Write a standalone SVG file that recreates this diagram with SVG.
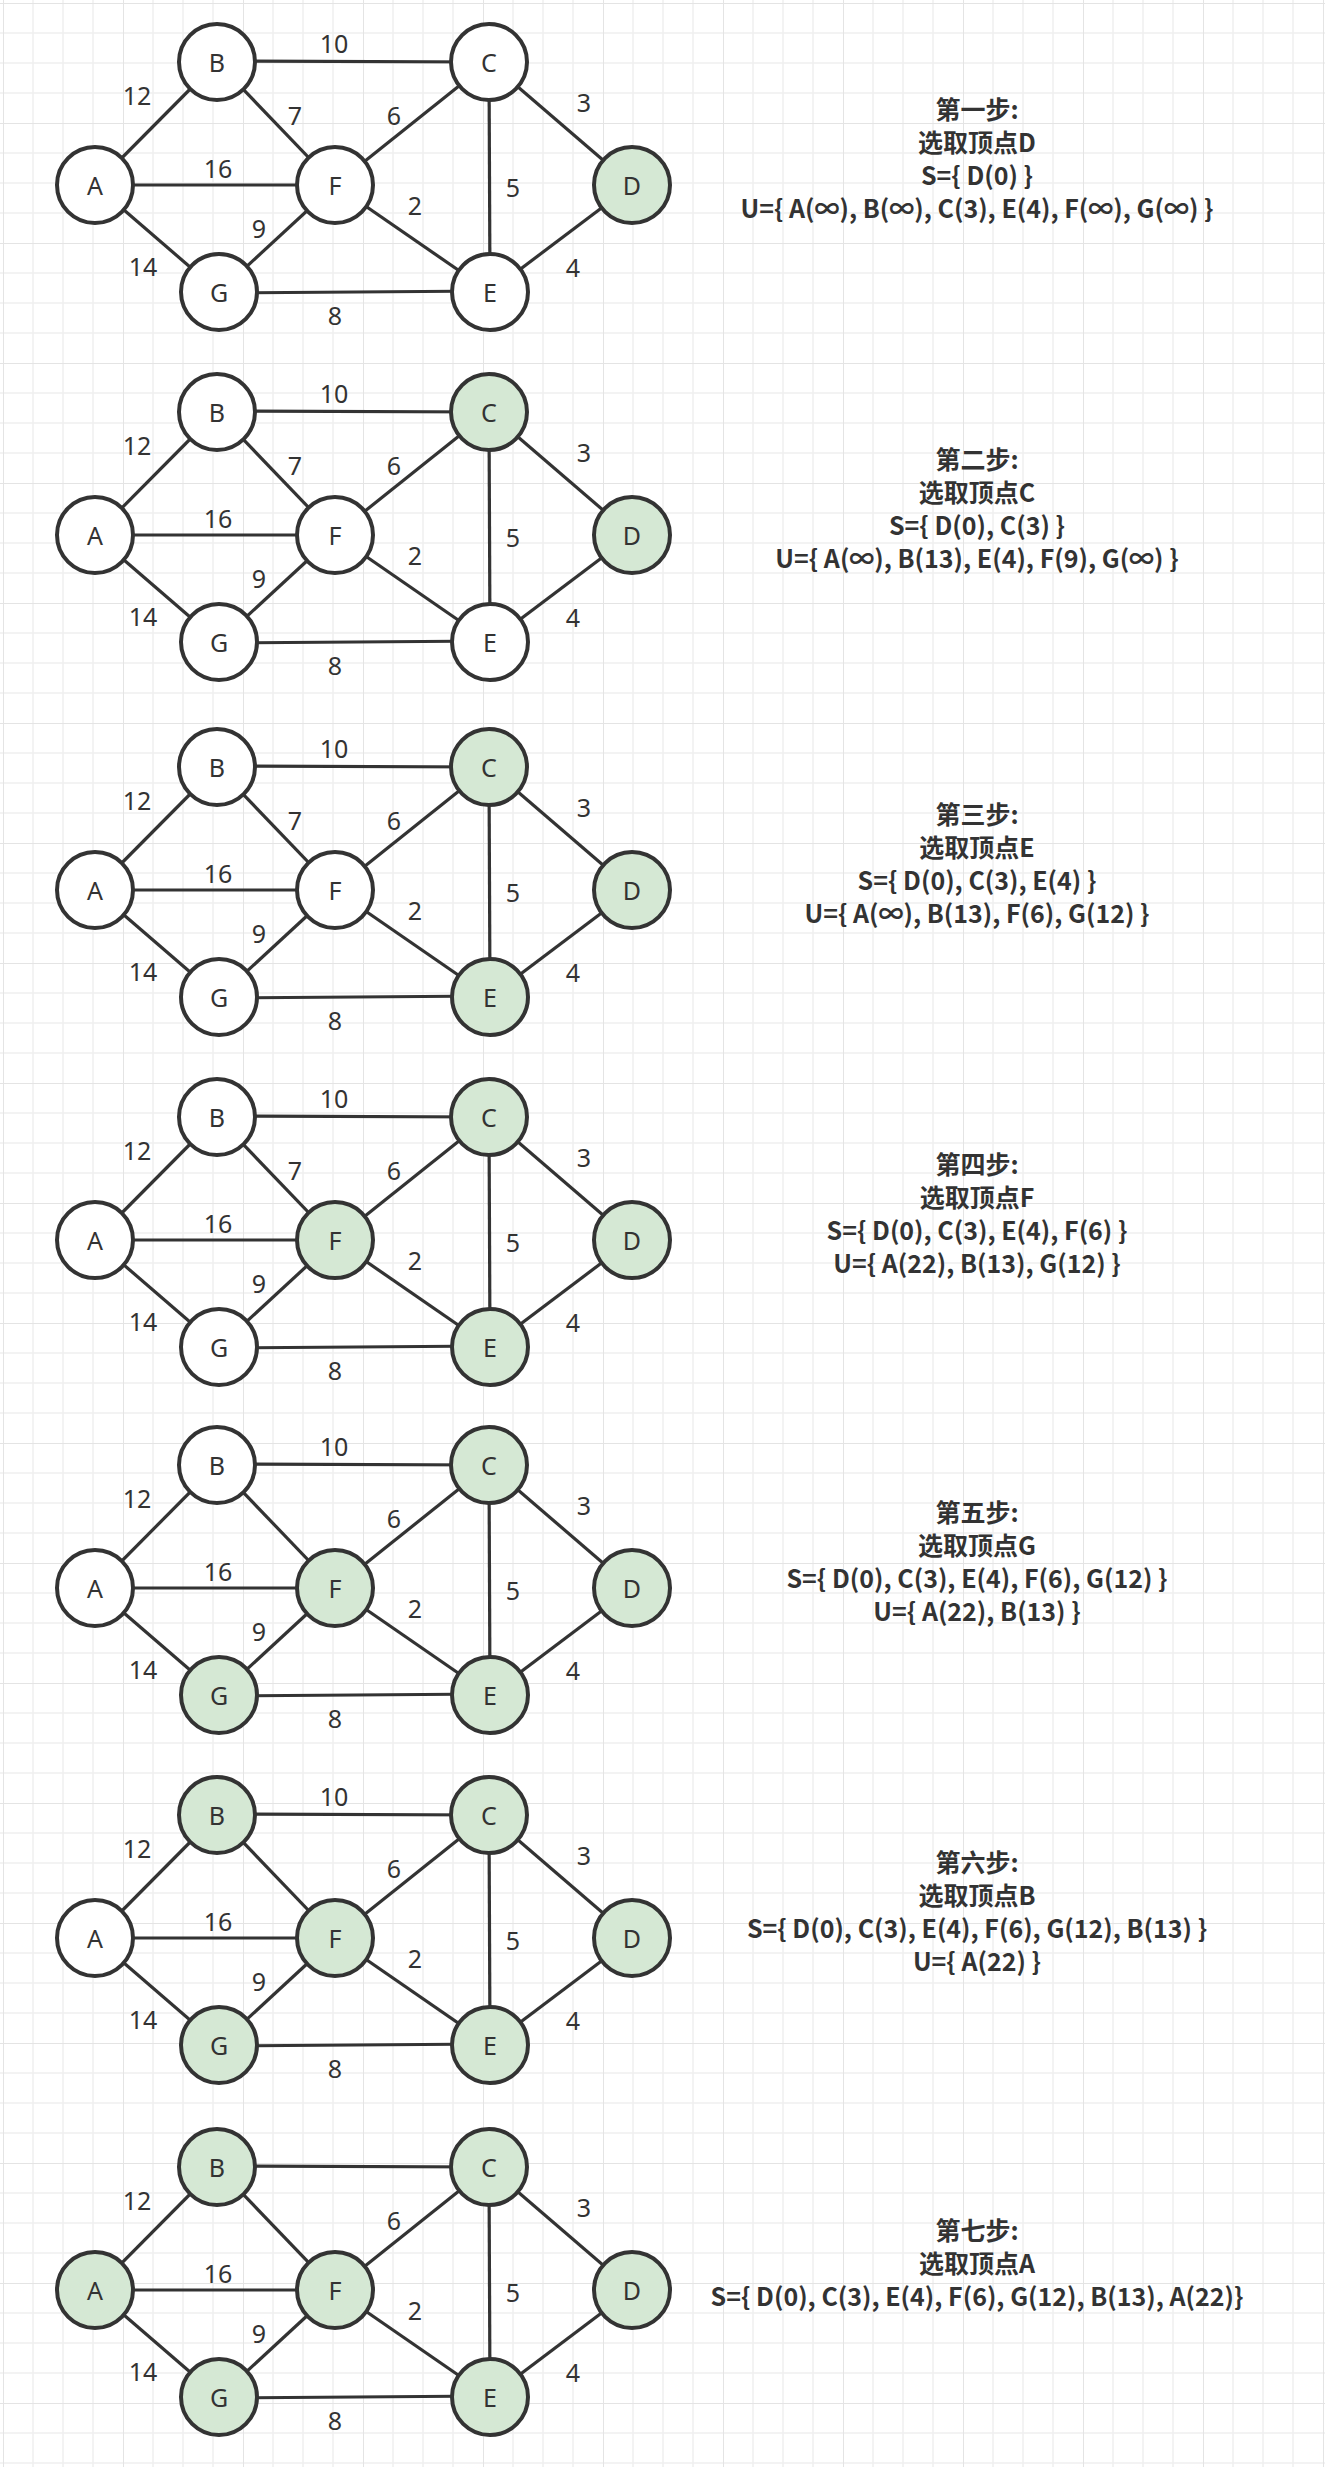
<svg xmlns="http://www.w3.org/2000/svg" xmlns:xlink="http://www.w3.org/1999/xlink" width="1325" height="2467" viewBox="0 0 1325 2467">
<style>
.e{stroke:#333;stroke-width:3.2;fill:none}
.n{stroke:#333;stroke-width:4;fill:#fff}
.g{stroke:#333;stroke-width:4;fill:#d5e8d4}
.nl{font-family:"Noto Sans","Liberation Sans",sans-serif;font-size:25px;fill:#333;text-anchor:middle;dominant-baseline:central}
.el{font-family:"Noto Sans","Liberation Sans",sans-serif;font-size:25px;fill:#333;text-anchor:middle;dominant-baseline:central}
.t{font-family:"Noto Sans CJK SC","Noto Sans",sans-serif;font-size:25px;font-weight:bold;fill:#333;text-anchor:middle;dominant-baseline:central}
</style>
<defs>
<pattern id="grid" x="3" y="3" width="120" height="120" patternUnits="userSpaceOnUse">
<path d="M30 0V120M60 0V120M90 0V120M0 30H120M0 60H120M0 90H120" stroke="#f0f0f0" stroke-width="1.5" fill="none"/>
<path d="M0 0V120M0 0H120" stroke="#e4e4e4" stroke-width="2" fill="none"/>
</pattern>
<g id="edges">
<line class="e" x1="95" y1="185" x2="217" y2="62"/>
<line class="e" x1="95" y1="185" x2="335" y2="185"/>
<line class="e" x1="95" y1="185" x2="219" y2="292"/>
<line class="e" x1="217" y1="61" x2="489" y2="62"/>
<line class="e" x1="217" y1="62" x2="335" y2="185"/>
<line class="e" x1="489" y1="62" x2="335" y2="185"/>
<line class="e" x1="489" y1="62" x2="490" y2="292"/>
<line class="e" x1="489" y1="62" x2="632" y2="185"/>
<line class="e" x1="335" y1="185" x2="490" y2="292"/>
<line class="e" x1="335" y1="185" x2="219" y2="292"/>
<line class="e" x1="219" y1="293" x2="490" y2="291"/>
<line class="e" x1="490" y1="292" x2="632" y2="185"/>
</g>
</defs>
<rect width="1325" height="2467" fill="#fff"/>
<rect width="1325" height="2467" fill="url(#grid)"/>

<!-- Panel 1 -->
<g id="step1">
<g id="connectors1"><use xlink:href="#edges"/>
<text class="el" x="334" y="43">10</text><text class="el" x="137" y="95">12</text><text class="el" x="295" y="115">7</text><text class="el" x="394" y="115">6</text><text class="el" x="218" y="168">16</text><text class="el" x="584" y="102">3</text><text class="el" x="513" y="187">5</text><text class="el" x="415" y="205">2</text><text class="el" x="259" y="228">9</text><text class="el" x="143" y="266">14</text><text class="el" x="573" y="267">4</text><text class="el" x="335" y="315">8</text></g>
<g id="s1A"><circle class="n" cx="95" cy="185" r="38"/><text class="nl" x="95" y="185">A</text></g>
<g id="s1B"><circle class="n" cx="217" cy="62" r="38"/><text class="nl" x="217" y="62">B</text></g>
<g id="s1C"><circle class="n" cx="489" cy="62" r="38"/><text class="nl" x="489" y="62">C</text></g>
<g id="s1D"><circle class="g" cx="632" cy="185" r="38"/><text class="nl" x="632" y="185">D</text></g>
<g id="s1F"><circle class="n" cx="335" cy="185" r="38"/><text class="nl" x="335" y="185">F</text></g>
<g id="s1G"><circle class="n" cx="219" cy="292" r="38"/><text class="nl" x="219" y="292">G</text></g>
<g id="s1E"><circle class="n" cx="490" cy="292" r="38"/><text class="nl" x="490" y="292">E</text></g>
<g id="s1text"><text class="t" x="977" y="108">第一步:</text><text class="t" x="977" y="141">选取顶点D</text><text class="t" x="977" y="174">S={ D(0) }</text><text class="t" x="977" y="207">U={ A(∞), B(∞), C(3), E(4), F(∞), G(∞) }</text></g>
</g>

<!-- Panel 2 -->
<g id="step2" transform="translate(0,350)">
<g id="connectors2"><use xlink:href="#edges"/>
<text class="el" x="334" y="43">10</text><text class="el" x="137" y="95">12</text><text class="el" x="295" y="115">7</text><text class="el" x="394" y="115">6</text><text class="el" x="218" y="168">16</text><text class="el" x="584" y="102">3</text><text class="el" x="513" y="187">5</text><text class="el" x="415" y="205">2</text><text class="el" x="259" y="228">9</text><text class="el" x="143" y="266">14</text><text class="el" x="573" y="267">4</text><text class="el" x="335" y="315">8</text></g>
<g id="s2A"><circle class="n" cx="95" cy="185" r="38"/><text class="nl" x="95" y="185">A</text></g>
<g id="s2B"><circle class="n" cx="217" cy="62" r="38"/><text class="nl" x="217" y="62">B</text></g>
<g id="s2C"><circle class="g" cx="489" cy="62" r="38"/><text class="nl" x="489" y="62">C</text></g>
<g id="s2D"><circle class="g" cx="632" cy="185" r="38"/><text class="nl" x="632" y="185">D</text></g>
<g id="s2F"><circle class="n" cx="335" cy="185" r="38"/><text class="nl" x="335" y="185">F</text></g>
<g id="s2G"><circle class="n" cx="219" cy="292" r="38"/><text class="nl" x="219" y="292">G</text></g>
<g id="s2E"><circle class="n" cx="490" cy="292" r="38"/><text class="nl" x="490" y="292">E</text></g>
<g id="s2text"><text class="t" x="977" y="108">第二步:</text><text class="t" x="977" y="141">选取顶点C</text><text class="t" x="977" y="174">S={ D(0), C(3) }</text><text class="t" x="977" y="207">U={ A(∞), B(13), E(4), F(9), G(∞) }</text></g>
</g>

<!-- Panel 3 -->
<g id="step3" transform="translate(0,705)">
<g id="connectors3"><use xlink:href="#edges"/>
<text class="el" x="334" y="43">10</text><text class="el" x="137" y="95">12</text><text class="el" x="295" y="115">7</text><text class="el" x="394" y="115">6</text><text class="el" x="218" y="168">16</text><text class="el" x="584" y="102">3</text><text class="el" x="513" y="187">5</text><text class="el" x="415" y="205">2</text><text class="el" x="259" y="228">9</text><text class="el" x="143" y="266">14</text><text class="el" x="573" y="267">4</text><text class="el" x="335" y="315">8</text></g>
<g id="s3A"><circle class="n" cx="95" cy="185" r="38"/><text class="nl" x="95" y="185">A</text></g>
<g id="s3B"><circle class="n" cx="217" cy="62" r="38"/><text class="nl" x="217" y="62">B</text></g>
<g id="s3C"><circle class="g" cx="489" cy="62" r="38"/><text class="nl" x="489" y="62">C</text></g>
<g id="s3D"><circle class="g" cx="632" cy="185" r="38"/><text class="nl" x="632" y="185">D</text></g>
<g id="s3F"><circle class="n" cx="335" cy="185" r="38"/><text class="nl" x="335" y="185">F</text></g>
<g id="s3G"><circle class="n" cx="219" cy="292" r="38"/><text class="nl" x="219" y="292">G</text></g>
<g id="s3E"><circle class="g" cx="490" cy="292" r="38"/><text class="nl" x="490" y="292">E</text></g>
<g id="s3text"><text class="t" x="977" y="108">第三步:</text><text class="t" x="977" y="141">选取顶点E</text><text class="t" x="977" y="174">S={ D(0), C(3), E(4) }</text><text class="t" x="977" y="207">U={ A(∞), B(13), F(6), G(12) }</text></g>
</g>

<!-- Panel 4 -->
<g id="step4" transform="translate(0,1055)">
<g id="connectors4"><use xlink:href="#edges"/>
<text class="el" x="334" y="43">10</text><text class="el" x="137" y="95">12</text><text class="el" x="295" y="115">7</text><text class="el" x="394" y="115">6</text><text class="el" x="218" y="168">16</text><text class="el" x="584" y="102">3</text><text class="el" x="513" y="187">5</text><text class="el" x="415" y="205">2</text><text class="el" x="259" y="228">9</text><text class="el" x="143" y="266">14</text><text class="el" x="573" y="267">4</text><text class="el" x="335" y="315">8</text></g>
<g id="s4A"><circle class="n" cx="95" cy="185" r="38"/><text class="nl" x="95" y="185">A</text></g>
<g id="s4B"><circle class="n" cx="217" cy="62" r="38"/><text class="nl" x="217" y="62">B</text></g>
<g id="s4C"><circle class="g" cx="489" cy="62" r="38"/><text class="nl" x="489" y="62">C</text></g>
<g id="s4D"><circle class="g" cx="632" cy="185" r="38"/><text class="nl" x="632" y="185">D</text></g>
<g id="s4F"><circle class="g" cx="335" cy="185" r="38"/><text class="nl" x="335" y="185">F</text></g>
<g id="s4G"><circle class="n" cx="219" cy="292" r="38"/><text class="nl" x="219" y="292">G</text></g>
<g id="s4E"><circle class="g" cx="490" cy="292" r="38"/><text class="nl" x="490" y="292">E</text></g>
<g id="s4text"><text class="t" x="977" y="108">第四步:</text><text class="t" x="977" y="141">选取顶点F</text><text class="t" x="977" y="174">S={ D(0), C(3), E(4), F(6) }</text><text class="t" x="977" y="207">U={ A(22), B(13), G(12) }</text></g>
</g>

<!-- Panel 5 -->
<g id="step5" transform="translate(0,1403)">
<g id="connectors5"><use xlink:href="#edges"/>
<text class="el" x="334" y="43">10</text><text class="el" x="137" y="95">12</text><text class="el" x="394" y="115">6</text><text class="el" x="218" y="168">16</text><text class="el" x="584" y="102">3</text><text class="el" x="513" y="187">5</text><text class="el" x="415" y="205">2</text><text class="el" x="259" y="228">9</text><text class="el" x="143" y="266">14</text><text class="el" x="573" y="267">4</text><text class="el" x="335" y="315">8</text></g>
<g id="s5A"><circle class="n" cx="95" cy="185" r="38"/><text class="nl" x="95" y="185">A</text></g>
<g id="s5B"><circle class="n" cx="217" cy="62" r="38"/><text class="nl" x="217" y="62">B</text></g>
<g id="s5C"><circle class="g" cx="489" cy="62" r="38"/><text class="nl" x="489" y="62">C</text></g>
<g id="s5D"><circle class="g" cx="632" cy="185" r="38"/><text class="nl" x="632" y="185">D</text></g>
<g id="s5F"><circle class="g" cx="335" cy="185" r="38"/><text class="nl" x="335" y="185">F</text></g>
<g id="s5G"><circle class="g" cx="219" cy="292" r="38"/><text class="nl" x="219" y="292">G</text></g>
<g id="s5E"><circle class="g" cx="490" cy="292" r="38"/><text class="nl" x="490" y="292">E</text></g>
<g id="s5text"><text class="t" x="977" y="108">第五步:</text><text class="t" x="977" y="141">选取顶点G</text><text class="t" x="977" y="174">S={ D(0), C(3), E(4), F(6), G(12) }</text><text class="t" x="977" y="207">U={ A(22), B(13) }</text></g>
</g>

<!-- Panel 6 -->
<g id="step6" transform="translate(0,1753)">
<g id="connectors6"><use xlink:href="#edges"/>
<text class="el" x="334" y="43">10</text><text class="el" x="137" y="95">12</text><text class="el" x="394" y="115">6</text><text class="el" x="218" y="168">16</text><text class="el" x="584" y="102">3</text><text class="el" x="513" y="187">5</text><text class="el" x="415" y="205">2</text><text class="el" x="259" y="228">9</text><text class="el" x="143" y="266">14</text><text class="el" x="573" y="267">4</text><text class="el" x="335" y="315">8</text></g>
<g id="s6A"><circle class="n" cx="95" cy="185" r="38"/><text class="nl" x="95" y="185">A</text></g>
<g id="s6B"><circle class="g" cx="217" cy="62" r="38"/><text class="nl" x="217" y="62">B</text></g>
<g id="s6C"><circle class="g" cx="489" cy="62" r="38"/><text class="nl" x="489" y="62">C</text></g>
<g id="s6D"><circle class="g" cx="632" cy="185" r="38"/><text class="nl" x="632" y="185">D</text></g>
<g id="s6F"><circle class="g" cx="335" cy="185" r="38"/><text class="nl" x="335" y="185">F</text></g>
<g id="s6G"><circle class="g" cx="219" cy="292" r="38"/><text class="nl" x="219" y="292">G</text></g>
<g id="s6E"><circle class="g" cx="490" cy="292" r="38"/><text class="nl" x="490" y="292">E</text></g>
<g id="s6text"><text class="t" x="977" y="108">第六步:</text><text class="t" x="977" y="141">选取顶点B</text><text class="t" x="977" y="174">S={ D(0), C(3), E(4), F(6), G(12), B(13) }</text><text class="t" x="977" y="207">U={ A(22) }</text></g>
</g>

<!-- Panel 7 -->
<g id="step7" transform="translate(0,2105)">
<g id="connectors7"><use xlink:href="#edges"/>
<text class="el" x="137" y="95">12</text><text class="el" x="394" y="115">6</text><text class="el" x="218" y="168">16</text><text class="el" x="584" y="102">3</text><text class="el" x="513" y="187">5</text><text class="el" x="415" y="205">2</text><text class="el" x="259" y="228">9</text><text class="el" x="143" y="266">14</text><text class="el" x="573" y="267">4</text><text class="el" x="335" y="315">8</text></g>
<g id="s7A"><circle class="g" cx="95" cy="185" r="38"/><text class="nl" x="95" y="185">A</text></g>
<g id="s7B"><circle class="g" cx="217" cy="62" r="38"/><text class="nl" x="217" y="62">B</text></g>
<g id="s7C"><circle class="g" cx="489" cy="62" r="38"/><text class="nl" x="489" y="62">C</text></g>
<g id="s7D"><circle class="g" cx="632" cy="185" r="38"/><text class="nl" x="632" y="185">D</text></g>
<g id="s7F"><circle class="g" cx="335" cy="185" r="38"/><text class="nl" x="335" y="185">F</text></g>
<g id="s7G"><circle class="g" cx="219" cy="292" r="38"/><text class="nl" x="219" y="292">G</text></g>
<g id="s7E"><circle class="g" cx="490" cy="292" r="38"/><text class="nl" x="490" y="292">E</text></g>
<g id="s7text"><text class="t" x="977" y="124">第七步:</text><text class="t" x="977" y="157">选取顶点A</text><text class="t" x="977" y="190">S={ D(0), C(3), E(4), F(6), G(12), B(13), A(22)}</text></g>
</g>
</svg>
